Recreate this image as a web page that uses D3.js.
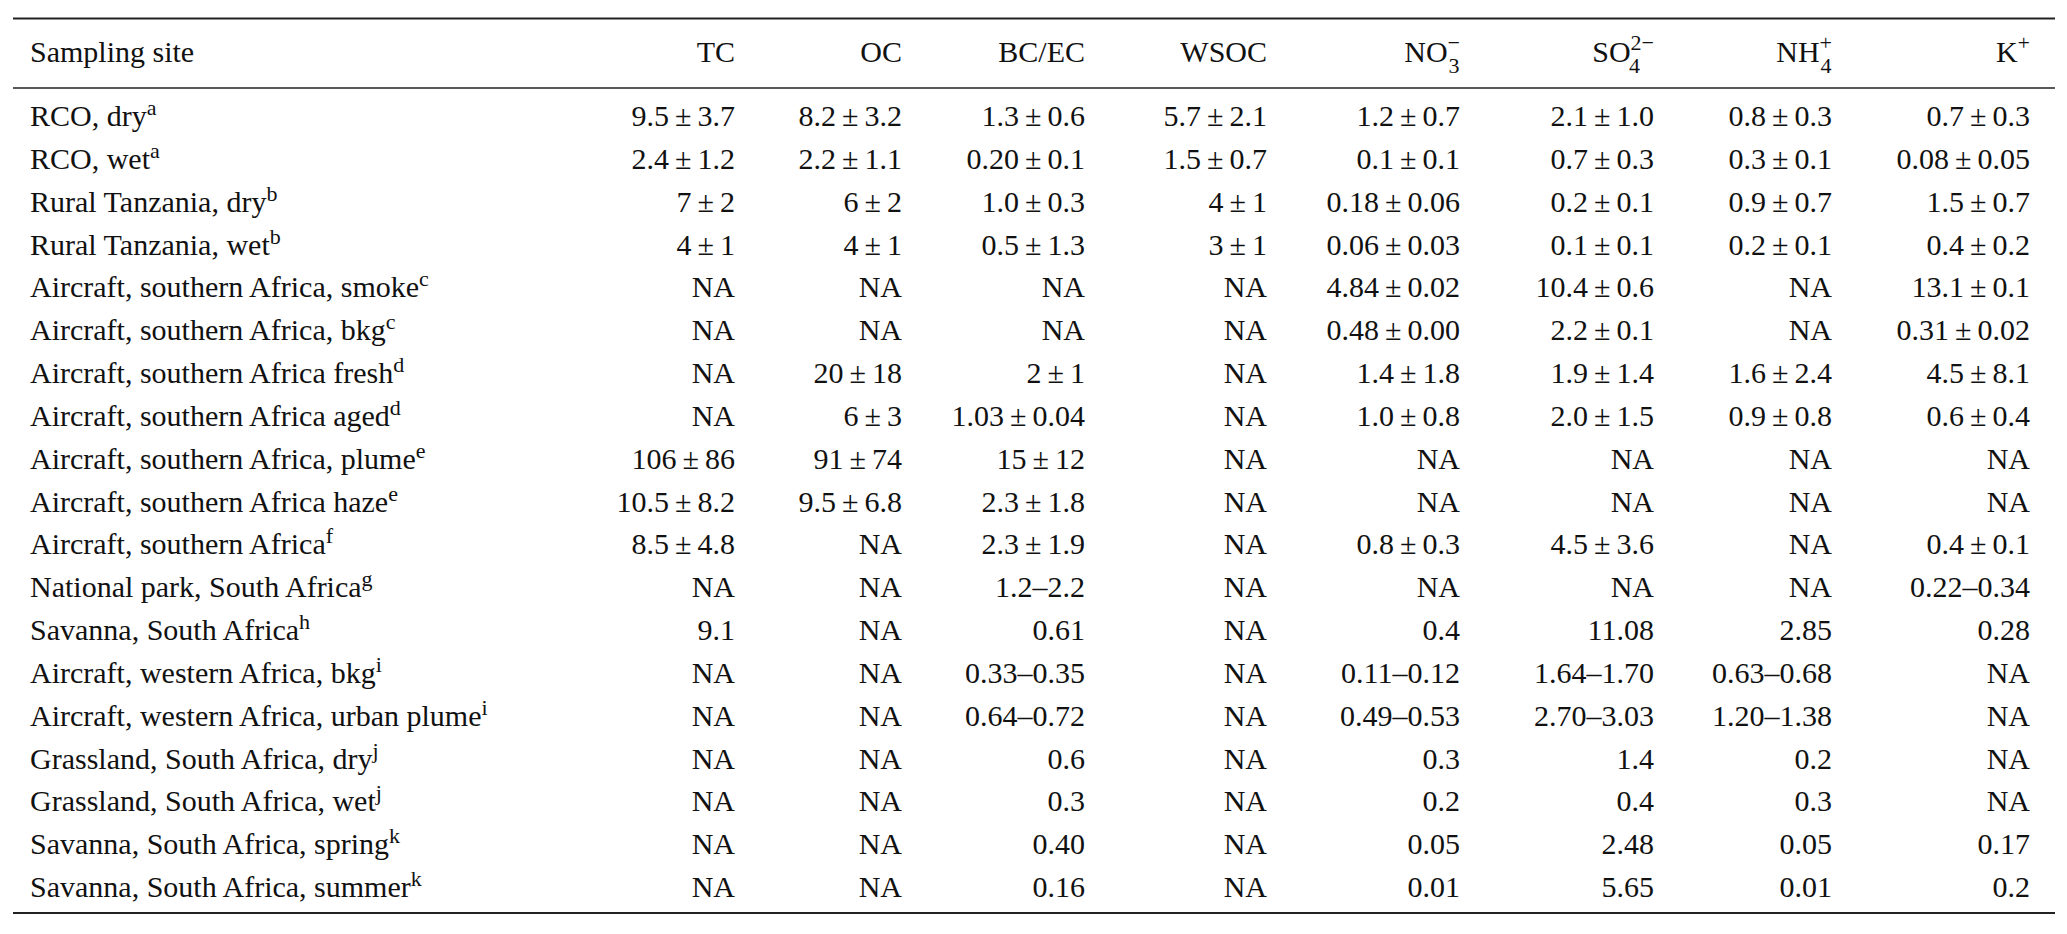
<!DOCTYPE html>
<html><head><meta charset="utf-8">
<script src="https://cdn.jsdelivr.net/npm/d3@7"></script>
<style>body{margin:0;background:#fff} text{font-family:"Liberation Serif","Times New Roman",Times,"DejaVu Serif",serif}</style>
</head><body><div id="tbl"></div>
<script>
const W = 2067, H = 934;
// header: [base, sub, sup]
const headers = [["TC","",""],["OC","",""],["BC/EC","",""],["WSOC","",""],["NO","3","−"],["SO","4","2−"],["NH","4","+"],["K","","+"]];
const sites = ["RCO, dry","RCO, wet","Rural Tanzania, dry","Rural Tanzania, wet","Aircraft, southern Africa, smoke","Aircraft, southern Africa, bkg","Aircraft, southern Africa fresh","Aircraft, southern Africa aged","Aircraft, southern Africa, plume","Aircraft, southern Africa haze","Aircraft, southern Africa","National park, South Africa","Savanna, South Africa","Aircraft, western Africa, bkg","Aircraft, western Africa, urban plume","Grassland, South Africa, dry","Grassland, South Africa, wet","Savanna, South Africa, spring","Savanna, South Africa, summer"];
const notes = ["a","a","b","b","c","c","d","d","e","e","f","g","h","i","i","j","j","k","k"];
const TC = ["9.5 ± 3.7","2.4 ± 1.2","7 ± 2","4 ± 1","NA","NA","NA","NA","106 ± 86","10.5 ± 8.2","8.5 ± 4.8","NA","9.1","NA","NA","NA","NA","NA","NA"];
const OC = ["8.2 ± 3.2","2.2 ± 1.1","6 ± 2","4 ± 1","NA","NA","20 ± 18","6 ± 3","91 ± 74","9.5 ± 6.8","NA","NA","NA","NA","NA","NA","NA","NA","NA"];
const BCEC = ["1.3 ± 0.6","0.20 ± 0.1","1.0 ± 0.3","0.5 ± 1.3","NA","NA","2 ± 1","1.03 ± 0.04","15 ± 12","2.3 ± 1.8","2.3 ± 1.9","1.2–2.2","0.61","0.33–0.35","0.64–0.72","0.6","0.3","0.40","0.16"];
const WSOC = ["5.7 ± 2.1","1.5 ± 0.7","4 ± 1","3 ± 1","NA","NA","NA","NA","NA","NA","NA","NA","NA","NA","NA","NA","NA","NA","NA"];
const NO3 = ["1.2 ± 0.7","0.1 ± 0.1","0.18 ± 0.06","0.06 ± 0.03","4.84 ± 0.02","0.48 ± 0.00","1.4 ± 1.8","1.0 ± 0.8","NA","NA","0.8 ± 0.3","NA","0.4","0.11–0.12","0.49–0.53","0.3","0.2","0.05","0.01"];
const SO4 = ["2.1 ± 1.0","0.7 ± 0.3","0.2 ± 0.1","0.1 ± 0.1","10.4 ± 0.6","2.2 ± 0.1","1.9 ± 1.4","2.0 ± 1.5","NA","NA","4.5 ± 3.6","NA","11.08","1.64–1.70","2.70–3.03","1.4","0.4","2.48","5.65"];
const NH4 = ["0.8 ± 0.3","0.3 ± 0.1","0.9 ± 0.7","0.2 ± 0.1","NA","NA","1.6 ± 2.4","0.9 ± 0.8","NA","NA","NA","NA","2.85","0.63–0.68","1.20–1.38","0.2","0.3","0.05","0.01"];
const K = ["0.7 ± 0.3","0.08 ± 0.05","1.5 ± 0.7","0.4 ± 0.2","13.1 ± 0.1","0.31 ± 0.02","4.5 ± 8.1","0.6 ± 0.4","NA","NA","0.4 ± 0.1","0.22–0.34","0.28","NA","NA","NA","NA","0.17","0.2"];
const columns = [TC, OC, BCEC, WSOC, NO3, SO4, NH4, K];
const colRight = [735, 902, 1085, 1267, 1460, 1654, 1832, 2030];

const svg = d3.select("#tbl").append("svg").attr("width", W).attr("height", H);
const fs = 30;
const y = d3.scaleBand().domain(d3.range(sites.length)).range([96, 910]);

// rules
[[18.5,1.8],[88,1.4],[913,1.8]].forEach(([ry, sw]) => {
  svg.append("line").attr("x1", 13).attr("x2", 2055).attr("y1", ry).attr("y2", ry)
    .attr("stroke", "#222").attr("stroke-width", sw);
});

const t = (x, yy, anchor) => svg.append("text").attr("x", x).attr("y", yy)
  .attr("text-anchor", anchor).style("font-size", fs + "px").attr("fill", "#111");

// thin spaces around ± like the typeset table
const fmt = s => s.replace(" ± ", "\u2009±\u2009");

// header
t(30, 62, "start").text("Sampling site");
headers.forEach(([b, sub, sup], i) => {
  const el = t(colRight[i], 62, "end");
  el.append("tspan").text(b);
  if (sup) el.append("tspan").attr("dy", -12).style("font-size", "22px").text(sup);
  if (sub) {
    const supw = sup.length * 11.5 + (sup.length > 1 ? 2 : 0);
    svg.append("text").attr("x", colRight[i] - supw).attr("y", 73).attr("text-anchor", "start")
      .style("font-size", "22px").attr("fill", "#111").text(sub);
  }
});

// body
sites.forEach((s, r) => {
  const by = y(r) + y.bandwidth() * 0.7;
  const el = t(30, by, "start");
  el.append("tspan").text(s);
  el.append("tspan").attr("dy", -11).style("font-size", "22px").text(notes[r]);
  columns.forEach((col, c) => t(colRight[c], by, "end").text(fmt(col[r])));
});
</script></body></html>
